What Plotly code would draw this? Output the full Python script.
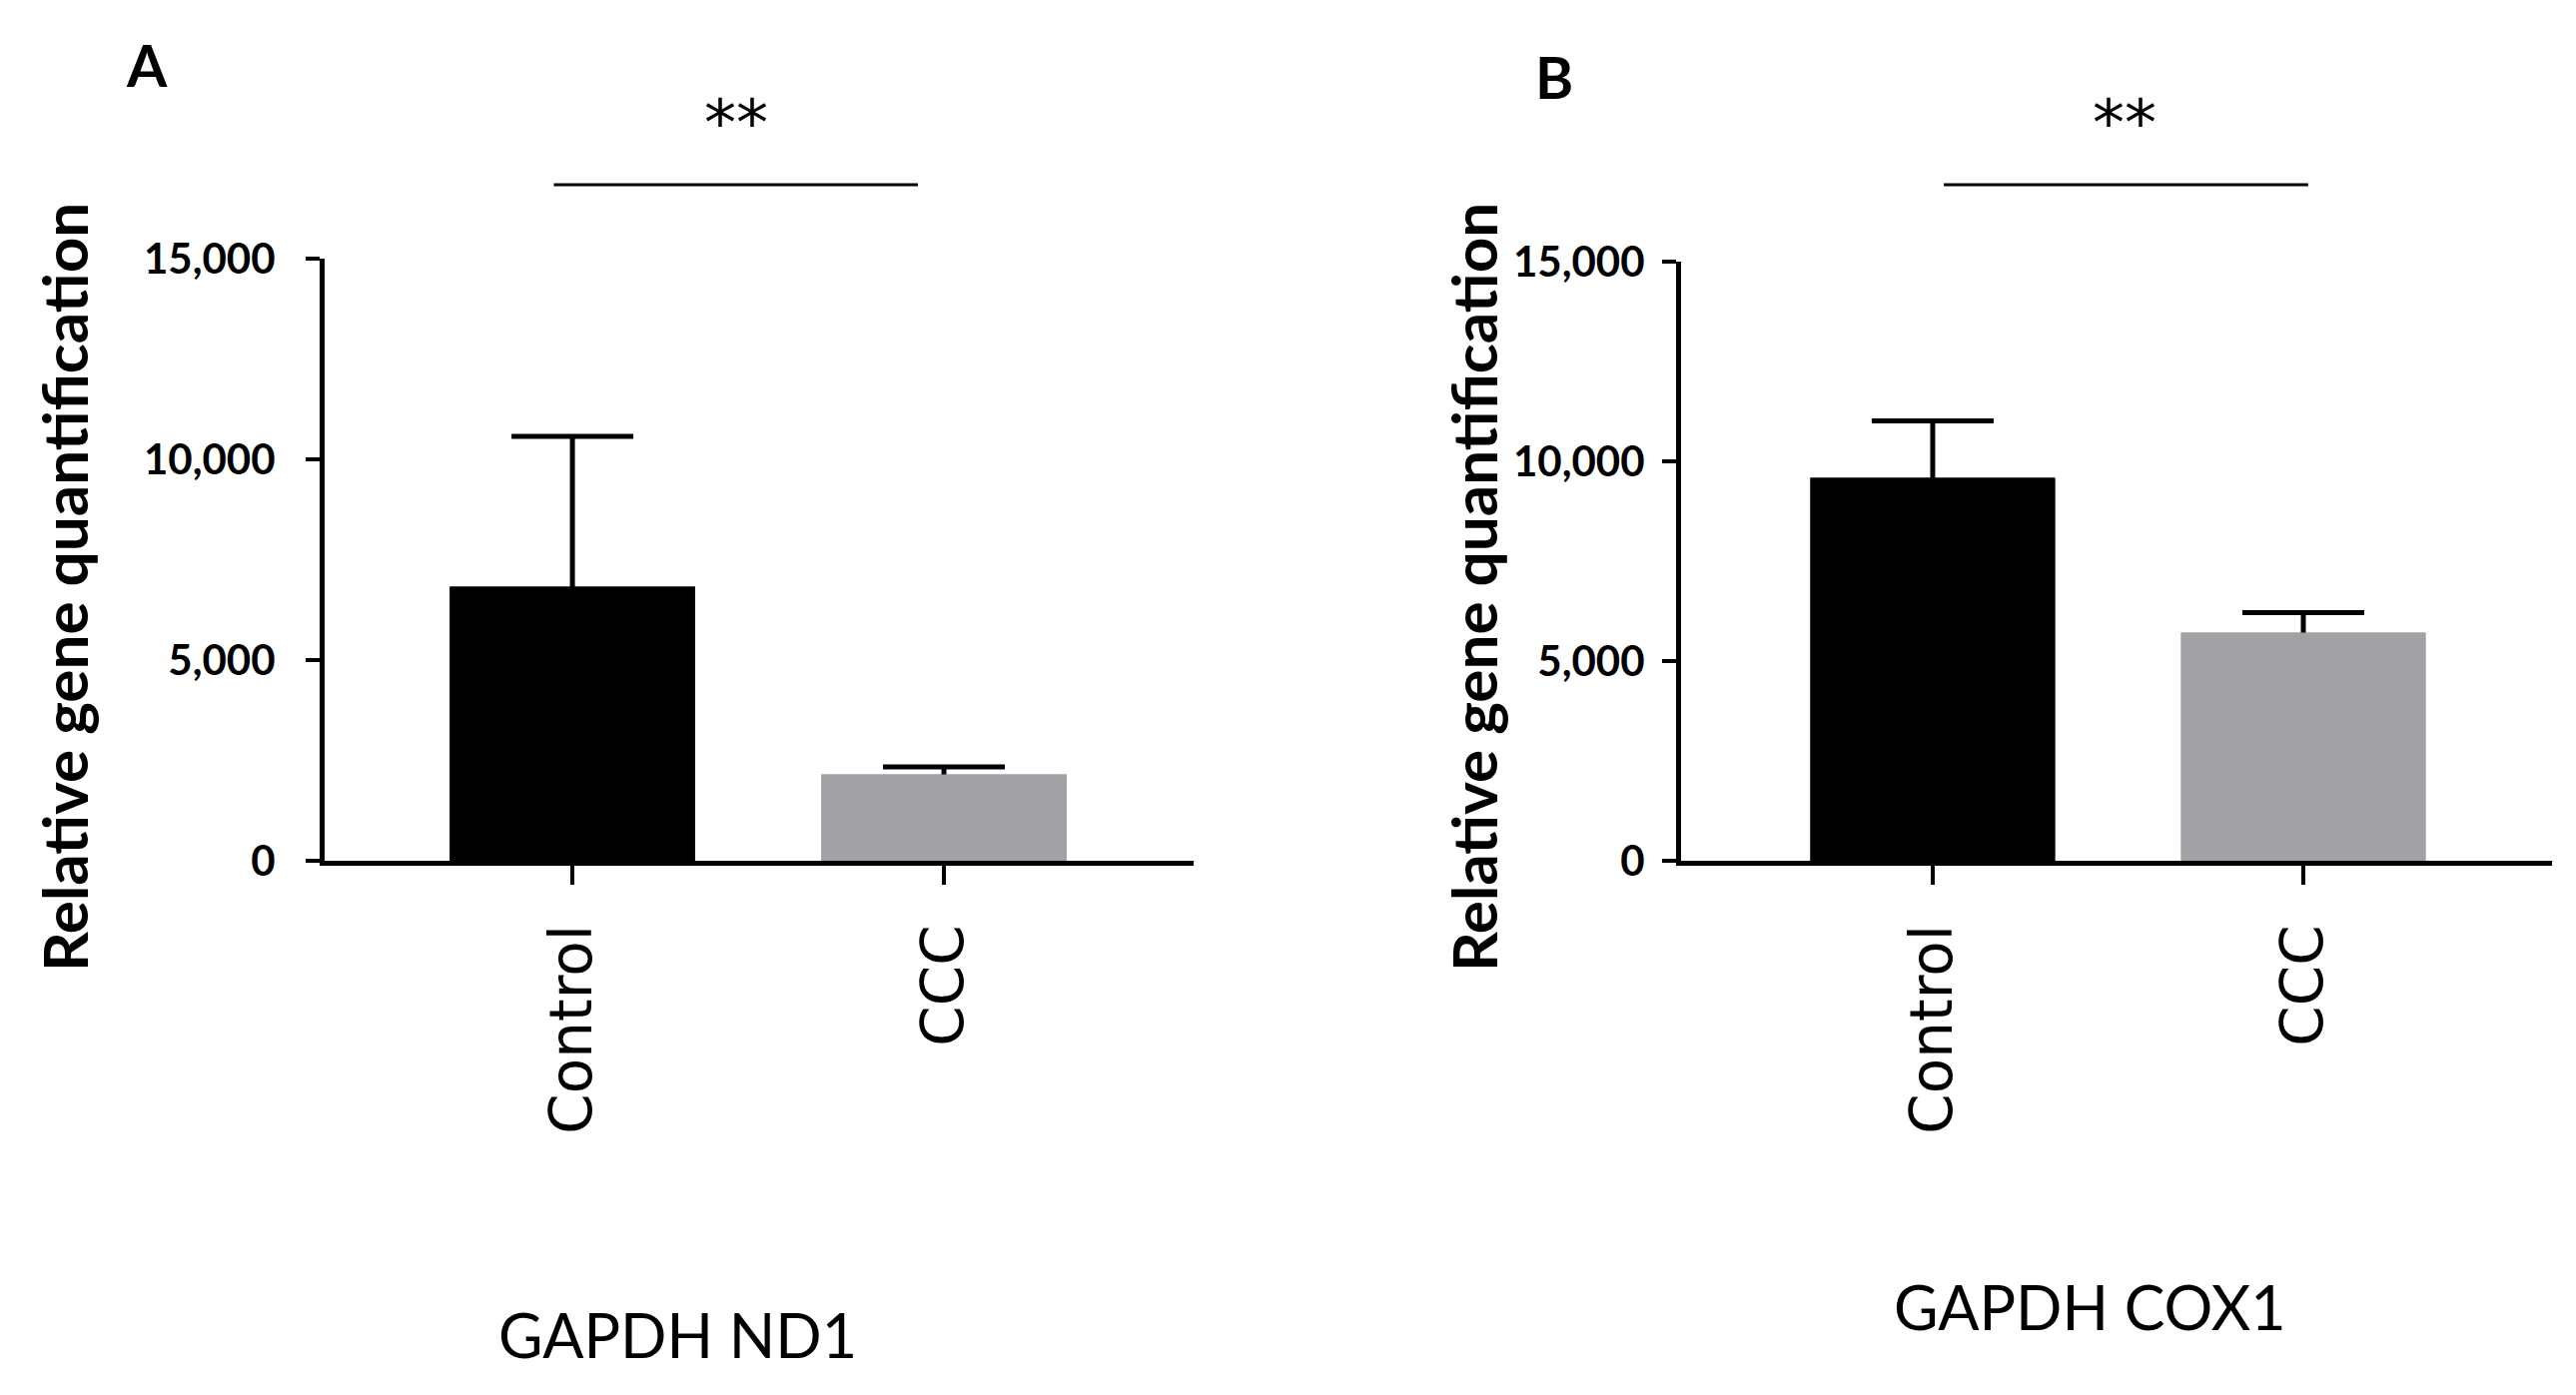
import plotly.graph_objects as go

# data (mean + upper SEM bar)
groups = ["Control", "CCC"]
nd1_mean = [6830, 2150]
nd1_err = [3740, 190]
cox1_mean = [9590, 5710]
cox1_err = [1420, 505]
bar_colors = ["#000000", "#a2a2a6"]
y_ticks = [0, 5000, 10000, 15000]
panel_titles = ["GAPDH ND1", "GAPDH COX1"]
panel_letters = ["A", "B"]
signif = ["**", "**"]

# the page body has an 8px margin, so the figure is shrunk to fit the window
OFF = 8
W, H = 2579 - 2 * OFF, 1397 - 2 * OFF


def fx(v):
    return (v - OFF) / W


def fy(v):
    return 1 - (v - OFF) / H


fig = go.Figure()

panels = [
    ("x", "y", nd1_mean, nd1_err),
    ("x2", "y2", cox1_mean, cox1_err),
]
for xa, ya, mean, err in panels:
    # first copy carries symmetric error bars, second copy covers the lower half
    fig.add_trace(go.Bar(x=groups, y=mean, xaxis=xa, yaxis=ya, width=0.66,
                         marker=dict(color=bar_colors, line=dict(width=0)),
                         error_y=dict(type="data", array=err, symmetric=True,
                                      color="black", thickness=5, width=61),
                         showlegend=False, hoverinfo="skip"))
    fig.add_trace(go.Bar(x=groups, y=mean, xaxis=xa, yaxis=ya, width=0.66,
                         marker=dict(color=bar_colors, line=dict(width=0)),
                         showlegend=False, hoverinfo="skip"))

xa_common = dict(showline=True, linewidth=5, linecolor="black", ticks="outside",
                 ticklen=19, tickwidth=4, tickcolor="black", tickangle=-90,
                 tickfont=dict(family="DejaVu Sans", size=58, color="black"),
                 ticklabelstandoff=17, showgrid=False, zeroline=False,
                 fixedrange=True, automargin=False)
ya_common = dict(showline=True, linewidth=5, linecolor="black", ticks="outside",
                 ticklen=14, tickwidth=4, tickcolor="black", range=[0, 15000],
                 tickvals=y_ticks, tickformat=",d",
                 tickfont=dict(family="Lato", size=42, color="black", weight="bold"),
                 showgrid=False, zeroline=False,
                 fixedrange=True, automargin=False)

fig.update_layout(
    width=W, height=H,
    margin=dict(l=0, r=0, t=0, b=0, pad=0, autoexpand=False),
    paper_bgcolor="white", plot_bgcolor="white",
    barmode="overlay",
    xaxis=dict(xa_common, domain=[fx(325), fx(1195)], range=[-0.667, 1.672], anchor="y"),
    yaxis=dict(ya_common, domain=[fy(862), fy(259)], anchor="x", ticklabelstandoff=22),
    xaxis2=dict(xa_common, domain=[fx(1683), fx(2555)], range=[-0.679, 1.671], anchor="y2"),
    yaxis2=dict(ya_common, domain=[fy(862), fy(262)], anchor="x2", ticklabelstandoff=9),
)

# significance brackets
fig.add_shape(type="line", xref="x", yref="paper", x0=-0.05, x1=0.93,
              y0=fy(185), y1=fy(185), line=dict(color="black", width=3))
fig.add_shape(type="line", xref="x2", yref="paper", x0=0.03, x1=1.013,
              y0=fy(185), y1=fy(185), line=dict(color="black", width=3))

bold_lato = dict(family="Lato", color="black", weight="bold")
notes = [
    # text, x, y, font, angle
    (panel_letters[0], 147, 65, dict(bold_lato, size=58), 0),
    (panel_letters[1], 1556, 76, dict(bold_lato, size=58), 0),
    (signif[0], 737, 123, dict(family="DejaVu Sans", size=64, color="black"), 0),
    (signif[1], 2127, 123, dict(family="DejaVu Sans", size=64, color="black"), 0),
    ("Relative gene quantification", 64, 588, dict(bold_lato, size=62), -90),
    ("Relative gene quantification", 1475, 588, dict(bold_lato, size=62), -90),
    (panel_titles[0], 678, 1336, dict(family="Lato", size=61, color="black"), 0),
    (panel_titles[1], 2092, 1308, dict(family="Lato", size=61, color="black"), 0),
]
for text, x, y, font, ang in notes:
    fig.add_annotation(text=text, xref="paper", yref="paper", x=fx(x), y=fy(y),
                       xanchor="center", yanchor="middle", showarrow=False,
                       font=font, textangle=ang)

fig.write_html("out.html")
